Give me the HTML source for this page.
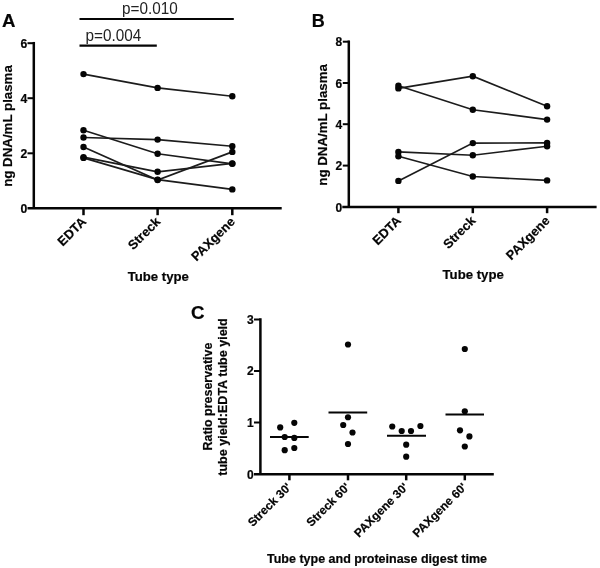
<!DOCTYPE html>
<html lang="en"><head><meta charset="utf-8"><title>Figure</title>
<style>html,body{margin:0;padding:0;background:#fff}svg{display:block;filter:blur(0.6px)}text{font-family:"Liberation Sans",Arial,Helvetica,sans-serif;fill:#050505}.b{font-weight:bold;stroke:#050505;stroke-width:0.2}.ax{stroke:#050505;stroke-width:2.5;fill:none;stroke-linecap:butt}.tk{stroke:#050505;stroke-width:2;fill:none}.t{font-weight:bold;stroke:#050505;stroke-width:0.2}.ln{stroke:#1c1c1c;stroke-width:1.7;fill:none}.pv{stroke:#050505;stroke-width:2.2}.r{fill:#222}.mn{stroke:#050505;stroke-width:1.9}circle{fill:#050505}</style></head><body>
<svg width="600" height="568" viewBox="0 0 600 568">
<rect width="600" height="568" fill="#fff"/>
<text class="b" x="2.00" y="27.10" font-size="18.6" text-anchor="start">A</text>
<line class="ax" x1="33.80" y1="41.95" x2="33.80" y2="208.30"/>
<line class="ax" x1="27.50" y1="208.30" x2="281.70" y2="208.30"/>
<line class="tk" x1="27.50" y1="43.20" x2="33.80" y2="43.20"/>
<text class="t" x="27.30" y="47.80" font-size="12.2" text-anchor="end">6</text>
<line class="tk" x1="27.50" y1="98.20" x2="33.80" y2="98.20"/>
<text class="t" x="27.30" y="102.80" font-size="12.2" text-anchor="end">4</text>
<line class="tk" x1="27.50" y1="153.30" x2="33.80" y2="153.30"/>
<text class="t" x="27.30" y="157.90" font-size="12.2" text-anchor="end">2</text>
<text class="t" x="27.30" y="212.90" font-size="12.2" text-anchor="end">0</text>
<line class="ax" x1="83.50" y1="208.30" x2="83.50" y2="215.20"/>
<line class="ax" x1="157.60" y1="208.30" x2="157.60" y2="215.20"/>
<line class="ax" x1="232.30" y1="208.30" x2="232.30" y2="215.20"/>
<text class="b" x="12.00" y="126.00" font-size="13.3" text-anchor="middle" transform="rotate(-90 12.00 126.00)">ng DNA/mL plasma</text>
<text class="b" x="87.00" y="222.50" font-size="12.9" text-anchor="end" transform="rotate(-45 87.00 222.50)">EDTA</text>
<text class="b" x="161.10" y="222.50" font-size="12.9" text-anchor="end" transform="rotate(-45 161.10 222.50)">Streck</text>
<text class="b" x="235.80" y="222.50" font-size="12.9" text-anchor="end" transform="rotate(-45 235.80 222.50)">PAXgene</text>
<text class="b" x="158.30" y="280.60" font-size="13.2" text-anchor="middle">Tube type</text>
<line class="pv" x1="79.50" y1="19.00" x2="233.80" y2="19.00"/>
<line class="pv" x1="79.50" y1="45.60" x2="156.80" y2="45.60"/>
<text class="r" font-size="15.3" text-anchor="middle" transform="translate(149.9 13.75) scale(1 1.1)">p=0.010</text>
<text class="r" font-size="15.3" text-anchor="middle" transform="translate(113.4 41.35) scale(1 1.1)">p=0.004</text>
<polyline class="ln" points="83.50,74.10 157.60,87.90 232.30,96.25"/>
<polyline class="ln" points="83.50,130.25 157.60,153.75 232.30,163.80"/>
<polyline class="ln" points="83.50,137.50 157.60,139.60 232.30,146.25"/>
<polyline class="ln" points="83.50,147.00 157.60,180.00 232.30,151.90"/>
<polyline class="ln" points="83.50,157.20 157.60,171.80 232.30,163.40"/>
<polyline class="ln" points="83.50,157.90 157.60,179.60 232.30,189.40"/>
<circle cx="83.50" cy="74.10" r="3.2"/>
<circle cx="157.60" cy="87.90" r="3.2"/>
<circle cx="232.30" cy="96.25" r="3.2"/>
<circle cx="83.50" cy="130.25" r="3.2"/>
<circle cx="157.60" cy="153.75" r="3.2"/>
<circle cx="232.30" cy="163.80" r="3.2"/>
<circle cx="83.50" cy="137.50" r="3.2"/>
<circle cx="157.60" cy="139.60" r="3.2"/>
<circle cx="232.30" cy="146.25" r="3.2"/>
<circle cx="83.50" cy="147.00" r="3.2"/>
<circle cx="157.60" cy="180.00" r="3.2"/>
<circle cx="232.30" cy="151.90" r="3.2"/>
<circle cx="83.50" cy="157.20" r="3.2"/>
<circle cx="157.60" cy="171.80" r="3.2"/>
<circle cx="232.30" cy="163.40" r="3.2"/>
<circle cx="83.50" cy="157.90" r="3.2"/>
<circle cx="157.60" cy="179.60" r="3.2"/>
<circle cx="232.30" cy="189.40" r="3.2"/>
<text class="b" x="311.80" y="27.00" font-size="18" text-anchor="start">B</text>
<line class="ax" x1="348.80" y1="40.45" x2="348.80" y2="206.90"/>
<line class="ax" x1="342.30" y1="206.90" x2="596.60" y2="206.90"/>
<line class="tk" x1="342.80" y1="41.70" x2="348.80" y2="41.70"/>
<text class="t" x="342.20" y="46.30" font-size="12.0" text-anchor="end">8</text>
<line class="tk" x1="342.80" y1="83.00" x2="348.80" y2="83.00"/>
<text class="t" x="342.20" y="87.60" font-size="12.0" text-anchor="end">6</text>
<line class="tk" x1="342.80" y1="124.20" x2="348.80" y2="124.20"/>
<text class="t" x="342.20" y="128.80" font-size="12.0" text-anchor="end">4</text>
<line class="tk" x1="342.80" y1="165.60" x2="348.80" y2="165.60"/>
<text class="t" x="342.20" y="170.20" font-size="12.0" text-anchor="end">2</text>
<text class="t" x="342.20" y="211.50" font-size="12.0" text-anchor="end">0</text>
<line class="ax" x1="398.40" y1="206.90" x2="398.40" y2="213.20"/>
<line class="ax" x1="472.80" y1="206.90" x2="472.80" y2="213.20"/>
<line class="ax" x1="547.10" y1="206.90" x2="547.10" y2="213.20"/>
<text class="b" x="327.20" y="124.90" font-size="13.3" text-anchor="middle" transform="rotate(-90 327.20 124.90)">ng DNA/mL plasma</text>
<text class="b" x="401.90" y="221.50" font-size="12.9" text-anchor="end" transform="rotate(-45 401.90 221.50)">EDTA</text>
<text class="b" x="476.30" y="221.50" font-size="12.9" text-anchor="end" transform="rotate(-45 476.30 221.50)">Streck</text>
<text class="b" x="550.60" y="221.50" font-size="12.9" text-anchor="end" transform="rotate(-45 550.60 221.50)">PAXgene</text>
<text class="b" x="473.20" y="278.70" font-size="13.2" text-anchor="middle">Tube type</text>
<polyline class="ln" points="398.40,88.40 472.80,76.25 547.10,106.25"/>
<polyline class="ln" points="398.40,85.80 472.80,109.75 547.10,119.60"/>
<polyline class="ln" points="398.40,151.90 472.80,155.25 547.10,146.25"/>
<polyline class="ln" points="398.40,156.25 472.80,176.50 547.10,180.40"/>
<polyline class="ln" points="398.40,180.90 472.80,143.10 547.10,142.90"/>
<circle cx="398.40" cy="88.40" r="3.2"/>
<circle cx="472.80" cy="76.25" r="3.2"/>
<circle cx="547.10" cy="106.25" r="3.2"/>
<circle cx="398.40" cy="85.80" r="3.2"/>
<circle cx="472.80" cy="109.75" r="3.2"/>
<circle cx="547.10" cy="119.60" r="3.2"/>
<circle cx="398.40" cy="151.90" r="3.2"/>
<circle cx="472.80" cy="155.25" r="3.2"/>
<circle cx="547.10" cy="146.25" r="3.2"/>
<circle cx="398.40" cy="156.25" r="3.2"/>
<circle cx="472.80" cy="176.50" r="3.2"/>
<circle cx="547.10" cy="180.40" r="3.2"/>
<circle cx="398.40" cy="180.90" r="3.2"/>
<circle cx="472.80" cy="143.10" r="3.2"/>
<circle cx="547.10" cy="142.90" r="3.2"/>
<text class="b" x="191.00" y="318.60" font-size="18.7" text-anchor="start">C</text>
<line class="ax" x1="260.40" y1="318.25" x2="260.40" y2="474.20"/>
<line class="ax" x1="254.00" y1="474.20" x2="493.80" y2="474.20"/>
<line class="tk" x1="254.00" y1="319.50" x2="260.40" y2="319.50"/>
<text class="t" x="253.60" y="323.90" font-size="12.0" text-anchor="end">3</text>
<line class="tk" x1="254.00" y1="371.00" x2="260.40" y2="371.00"/>
<text class="t" x="253.60" y="375.40" font-size="12.0" text-anchor="end">2</text>
<line class="tk" x1="254.00" y1="422.50" x2="260.40" y2="422.50"/>
<text class="t" x="253.60" y="426.90" font-size="12.0" text-anchor="end">1</text>
<text class="t" x="253.60" y="478.60" font-size="12.0" text-anchor="end">0</text>
<line class="ax" x1="289.40" y1="474.20" x2="289.40" y2="480.30"/>
<line class="ax" x1="348.00" y1="474.20" x2="348.00" y2="480.30"/>
<line class="ax" x1="406.20" y1="474.20" x2="406.20" y2="480.30"/>
<line class="ax" x1="464.80" y1="474.20" x2="464.80" y2="480.30"/>
<text class="b" x="212.20" y="396.50" font-size="12.45" text-anchor="middle" transform="rotate(-90 212.20 396.50)">Ratio preservative</text>
<text class="b" x="227.20" y="397.00" font-size="12.55" text-anchor="middle" transform="rotate(-90 227.20 397.00)">tube yield:EDTA tube yield</text>
<text class="b" x="292.10" y="487.90" font-size="11.9" text-anchor="end" transform="rotate(-45 292.10 487.90)">Streck 30'</text>
<text class="b" x="350.70" y="487.90" font-size="11.9" text-anchor="end" transform="rotate(-45 350.70 487.90)">Streck 60'</text>
<text class="b" x="408.90" y="487.90" font-size="11.9" text-anchor="end" transform="rotate(-45 408.90 487.90)">PAXgene 30'</text>
<text class="b" x="467.50" y="487.90" font-size="11.9" text-anchor="end" transform="rotate(-45 467.50 487.90)">PAXgene 60'</text>
<text class="b" x="377.00" y="562.50" font-size="12.5" text-anchor="middle">Tube type and proteinase digest time</text>
<line class="mn" x1="270.00" y1="437.00" x2="308.70" y2="437.00"/>
<line class="mn" x1="328.50" y1="412.50" x2="367.20" y2="412.50"/>
<line class="mn" x1="387.00" y1="435.80" x2="426.00" y2="435.80"/>
<line class="mn" x1="445.50" y1="414.50" x2="484.00" y2="414.50"/>
<circle cx="280.20" cy="427.40" r="3.1"/>
<circle cx="294.30" cy="422.80" r="3.1"/>
<circle cx="284.70" cy="437.00" r="3.1"/>
<circle cx="294.30" cy="437.90" r="3.1"/>
<circle cx="284.70" cy="450.20" r="3.1"/>
<circle cx="294.30" cy="448.00" r="3.1"/>
<circle cx="348.00" cy="344.50" r="3.1"/>
<circle cx="348.00" cy="417.25" r="3.1"/>
<circle cx="343.20" cy="425.00" r="3.1"/>
<circle cx="352.50" cy="432.50" r="3.1"/>
<circle cx="348.00" cy="444.00" r="3.1"/>
<circle cx="392.25" cy="426.50" r="3.1"/>
<circle cx="401.70" cy="431.00" r="3.1"/>
<circle cx="411.00" cy="431.00" r="3.1"/>
<circle cx="420.40" cy="426.00" r="3.1"/>
<circle cx="406.20" cy="444.70" r="3.1"/>
<circle cx="406.20" cy="456.70" r="3.1"/>
<circle cx="464.80" cy="349.00" r="3.1"/>
<circle cx="464.80" cy="411.25" r="3.1"/>
<circle cx="460.00" cy="430.30" r="3.1"/>
<circle cx="469.40" cy="436.40" r="3.1"/>
<circle cx="464.80" cy="446.50" r="3.1"/>
</svg></body></html>
